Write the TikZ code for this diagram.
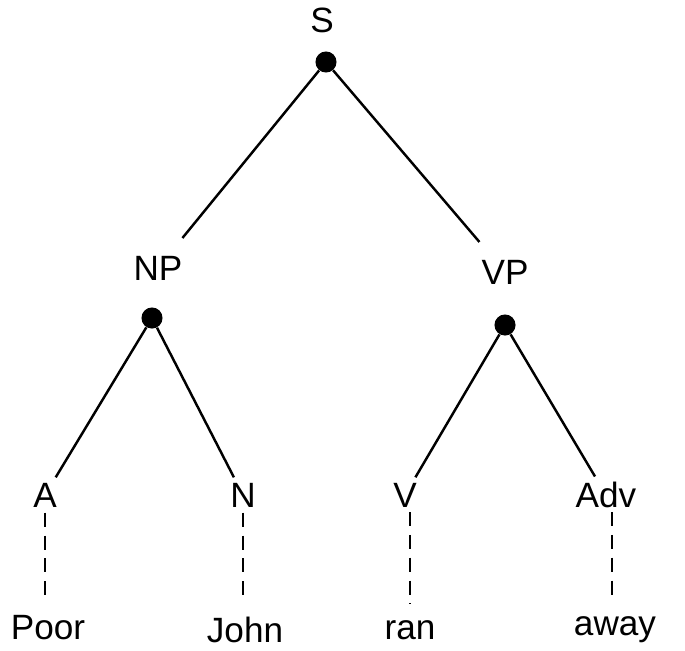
\documentclass[tikz,border=0pt]{standalone}
\usepackage{fontspec}
\setmainfont{Liberation Sans}
\begin{document}
\begin{tikzpicture}[x=0.02cm,y=-0.02cm,
  lab/.style={font=\fontsize{20}{24}\selectfont,inner sep=10pt},
  leaf/.style={font=\fontsize{20}{24}\selectfont,inner sep=3pt},
  word/.style={font=\fontsize{20}{24}\selectfont,inner sep=9pt},
  dot/.style={circle,fill=black,inner sep=0pt,minimum size=12pt},
  br/.style={line width=1.4pt},
  dsh/.style={line width=1.4pt,dash pattern=on 8pt off 5pt}]
\useasboundingbox (0,0) rectangle (685,650);
\node[lab,inner sep=3pt] (s) at (322,20) {S};
\node[dot] (sd) at (326,62) {};
\node[lab] (np) at (158,268) {NP};
\node[dot] (npd) at (152,318) {};
\node[lab] (vp) at (505,272) {VP};
\node[dot] (vpd) at (505,325) {};
\node[leaf] (a) at (45,495) {A};
\node[leaf] (n) at (243,495) {N};
\node[leaf] (v) at (405,495) {V};
\node[leaf] (adv) at (606,495) {Adv};
\node[word] (poor) at (48,628) {Poor};
\node[word] (john) at (245,630) {John};
\node[word] (ran) at (410,630) {ran};
\node[word] (away) at (615,630) {away};
\draw[br] (sd) -- (np);
\draw[br] (sd) -- (vp);
\draw[br] (npd) -- (a);
\draw[br] (npd) -- (n);
\draw[br] (vpd) -- (v);
\draw[br] (vpd) -- (adv);
\draw[dsh] (a.south) -- (a.south |- poor.north);
\draw[dsh] (n.south) -- (n.south |- john.north);
\draw[dsh] (410,512) -- (ran.north);
\draw[dsh] (612,512) -- (612,0 |- away.north);
\end{tikzpicture}
\end{document}
